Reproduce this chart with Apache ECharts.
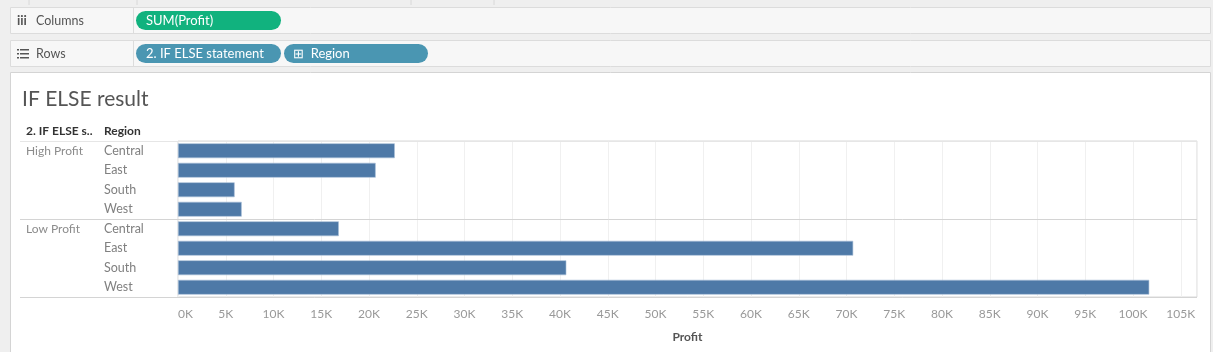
<!DOCTYPE html>
<html>
<head>
<meta charset="utf-8">
<script src="https://cdn.jsdelivr.net/npm/echarts@6/dist/echarts.min.js"></script>
<style>
html,body{margin:0;padding:0;background:#efefef;}
#c{width:1213px;height:352px;}
</style>
</head>
<body>
<div id="c"></div>
<script>
// ---- data ----
const groups = ['High Profit', 'Low Profit'];
const regions = ['Central', 'East', 'South', 'West'];
const highProfit = [22700, 20700, 5930, 6670];
const lowProfit = [16840, 70700, 40660, 101700];
const xTickStep = 5000;
const xMax = 106700;
const title = 'IF ELSE result';
const columnsPill = 'SUM(Profit)';
const rowsPills = ['2. IF ELSE statement', '⊞  Region'];
const headerGroup = '2. IF ELSE s..';
const headerRegion = 'Region';
const axisName = 'Profit';

// build rows
const rowRegion = [], rowGroup = [], rowValue = [];
groups.forEach((g, gi) => {
  const vals = gi === 0 ? highProfit : lowProfit;
  regions.forEach((r, ri) => {
    rowRegion.push(r);
    rowGroup.push(ri === 0 ? g : '');
    rowValue.push(vals[ri]);
  });
});
const rowKeys = rowRegion.map((r, i) => i + '|' + r);

const FONT = 'Lato, "Open Sans", sans-serif';
const chart = echarts.init(document.getElementById('c'), null, {renderer: 'canvas'});

const gridLeft = 178, gridRight = 16, gridTop = 141, gridBottom = 55;

function shelfGraphics() {
  const g = [];
  [29, 137, 411, 494].forEach(x => g.push({type: 'line', shape: {x1: x, y1: 0, x2: x, y2: 5}, style: {stroke: '#d8d8d8', lineWidth: 1}}));
  // Columns shelf
  g.push({type: 'rect', shape: {x: 10.5, y: 7.5, width: 1200, height: 26}, style: {fill: '#f7f7f7', stroke: '#dcdcdc', lineWidth: 1}});
  g.push({type: 'line', shape: {x1: 133.5, y1: 8, x2: 133.5, y2: 33}, style: {stroke: '#dcdcdc', lineWidth: 1}});
  g.push({type: 'text', x: 17, y: 20.5, style: {text: 'iii', font: 'bold 13px ' + FONT, fill: '#555', textVerticalAlign: 'middle'}});
  g.push({type: 'text', x: 36, y: 20.5, style: {text: 'Columns', font: '12.5px ' + FONT, fill: '#555', textVerticalAlign: 'middle'}});
  g.push({type: 'rect', shape: {x: 136, y: 11, width: 145, height: 19, r: 9.5}, style: {fill: '#11b27e'}});
  g.push({type: 'text', x: 146, y: 20.5, style: {text: columnsPill, font: '13px ' + FONT, fill: '#ffffff', textVerticalAlign: 'middle'}});
  // Rows shelf
  g.push({type: 'rect', shape: {x: 10.5, y: 40.5, width: 1200, height: 26}, style: {fill: '#f7f7f7', stroke: '#dcdcdc', lineWidth: 1}});
  g.push({type: 'line', shape: {x1: 133.5, y1: 41, x2: 133.5, y2: 66}, style: {stroke: '#dcdcdc', lineWidth: 1}});
  [49, 53, 57].forEach(y => {
    g.push({type: 'rect', shape: {x: 17, y: y, width: 2, height: 1.5}, style: {fill: '#555'}});
    g.push({type: 'rect', shape: {x: 20, y: y, width: 9, height: 1.5}, style: {fill: '#555'}});
  });
  g.push({type: 'text', x: 36, y: 53.5, style: {text: 'Rows', font: '12.5px ' + FONT, fill: '#555', textVerticalAlign: 'middle'}});
  g.push({type: 'rect', shape: {x: 136, y: 44, width: 145, height: 19, r: 9.5}, style: {fill: '#4a96b2'}});
  g.push({type: 'text', x: 146, y: 53.5, style: {text: rowsPills[0], font: '13px ' + FONT, fill: '#ffffff', textVerticalAlign: 'middle'}});
  g.push({type: 'rect', shape: {x: 284, y: 44, width: 144, height: 19, r: 9.5}, style: {fill: '#4a96b2'}});
  g.push({type: 'text', x: 293, y: 53.5, style: {text: rowsPills[1], font: '13px ' + FONT, fill: '#ffffff', textVerticalAlign: 'middle'}});
  // Chart panel
  g.push({type: 'rect', z: -10, shape: {x: 10.5, y: 72.5, width: 1200, height: 290}, style: {fill: '#ffffff', stroke: '#d4d4d4', lineWidth: 1}});
  g.push({type: 'text', x: 22, y: 99, style: {text: title, font: '21px ' + FONT, fill: '#555555', textVerticalAlign: 'middle'}});
  g.push({type: 'text', x: 26, y: 131, style: {text: headerGroup, font: 'bold 12px ' + FONT, fill: '#333333', textVerticalAlign: 'middle'}});
  g.push({type: 'text', x: 104, y: 131, style: {text: headerRegion, font: 'bold 12px ' + FONT, fill: '#333333', textVerticalAlign: 'middle'}});
  return g;
}

const option = {
  backgroundColor: 'transparent',
  animation: false,
  grid: {left: gridLeft, right: gridRight, top: gridTop, bottom: gridBottom, show: true, borderColor: '#d9d9d9', borderWidth: 1, backgroundColor: 'transparent'},
  xAxis: {
    type: 'value', min: 0, max: xMax, interval: xTickStep,
    axisLine: {show: false}, axisTick: {show: false},
    splitLine: {show: true, lineStyle: {color: '#f0f0f0', width: 1}},
    axisLabel: {showMaxLabel: false, alignMinLabel: 'left', color: '#999999', fontFamily: FONT, fontSize: 12, margin: 11,
      formatter: v => (v / 1000) + 'K'},
    name: axisName, nameLocation: 'middle', nameGap: 34,
    nameTextStyle: {fontFamily: FONT, fontWeight: 'bold', fontSize: 12, color: '#555555'}
  },
  yAxis: [
    {type: 'category', data: rowKeys, inverse: true,
      axisLine: {show: false}, axisTick: {show: false}, splitLine: {show: false},
      axisLabel: {align: 'left', margin: gridLeft - 104, color: '#808080', fontFamily: FONT, fontSize: 12.5,
        formatter: v => v.split('|')[1]}},
    {type: 'category', data: rowKeys, inverse: true, position: 'left',
      axisLine: {show: false}, axisTick: {show: false}, splitLine: {show: false},
      axisLabel: {align: 'left', margin: gridLeft - 26, color: '#8c8c8c', fontFamily: FONT, fontSize: 12,
        verticalAlign: 'middle',
        formatter: v => rowGroup[+v.split('|')[0]]}}
  ],
  series: [{
    type: 'bar', yAxisIndex: 0, data: rowValue, barCategoryGap: '24%',
    itemStyle: {color: '#4e79a7', borderColor: '#a9c0d9', borderWidth: 0.6}
  }],
  graphic: shelfGraphics()
};
chart.setOption(option);

// separator lines at group boundaries, computed from the category axis
const g = shelfGraphics();
const yTop = chart.convertToPixel({yAxisIndex: 0}, rowKeys[0]);
const y1 = chart.convertToPixel({yAxisIndex: 0}, rowKeys[1]);
const band = y1 - yTop;
const xEnd = chart.convertToPixel({xAxisIndex: 0}, xMax);
const boundaries = [0, regions.length, rowKeys.length];
boundaries.forEach((b, i) => {
  const y = Math.round(yTop - band / 2 + b * band) + 0.5;
  g.push({type: 'line', z: 5, shape: {x1: 20, y1: y, x2: xEnd, y2: y},
    style: {stroke: i === 0 ? '#e6e6e6' : '#d4d4d4', lineWidth: 1}});
});
chart.setOption({graphic: g}, {replaceMerge: ['graphic']});
</script>
</body>
</html>
